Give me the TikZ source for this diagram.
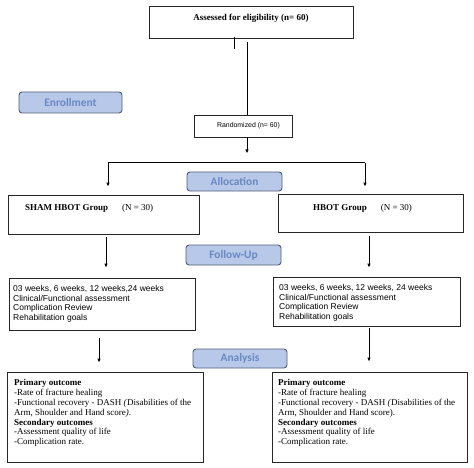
\documentclass[tikz,border=0pt]{standalone}
\usepackage{fontspec}
\setmainfont{Liberation Serif}
\setsansfont{Liberation Sans}
\newfontfamily\labfont{Carlito}
\usetikzlibrary{arrows.meta,calc}
\definecolor{labfill}{HTML}{B7C8E8}
\definecolor{labdraw}{HTML}{4F5D78}
\definecolor{labtext}{HTML}{6A88C2}
\begin{document}
\begin{tikzpicture}[x=1pt,y=-1pt,
 box/.style={draw=black!85,line width=0.8pt,inner sep=0},
 lab/.style={draw=labdraw,fill=labfill,line width=0.9pt,rounded corners=3pt,inner sep=0,font=\labfont\bfseries\fontsize{11.4}{13}\selectfont,text=labtext},
 sertxt/.style={font=\fontsize{9}{9.9}\selectfont,align=left,inner sep=0,anchor=north west},
 santxt/.style={font=\sffamily\fontsize{8.5}{9.7}\selectfont,align=left,inner sep=0,anchor=north west},
 arr/.style={line width=0.8pt,-{Latex[length=4pt,width=3.6pt]}},
 ln/.style={line width=0.8pt}]
\useasboundingbox (0,0) rectangle (474,468);
% top
\node[box,minimum width=204pt,minimum height=32pt] (elig) at (251,22) {};
\node[inner sep=0,font=\bfseries\fontsize{9}{10}\selectfont] (eligt) at (251,18) {Assessed for eligibility (n= 60)};
\node[box,minimum width=98pt,minimum height=22pt] (rand) at (243,126) {};
\node[inner sep=0,font=\sffamily\fontsize{6.9}{8}\selectfont] (randt) at (248.5,125.5) {Randomized (n= 60)};
\draw[ln] ($(elig.south)+(-17,-1)$) -- ++(0,12);
\draw[ln] ($(elig.south)+(-4,4)$) -- ($(rand.north)+(4,0)$);
\draw[arr] ($(rand.south)+(4,0)$) -- ++(0,16);
% labels
\node[lab,minimum width=103pt,minimum height=21pt] (enr) at (70.5,102.5) {Enrollment};
\node[lab,minimum width=95pt,minimum height=19pt] (alloc) at (234.5,181.5) {Allocation};
\node[lab,minimum width=95pt,minimum height=20pt] (fup) at (233.5,255) {Follow-Up};
\node[lab,minimum width=94pt,minimum height=19pt] (ana) at (240,358.5) {Analysis};
% groups
\node[box,minimum width=191pt,minimum height=39pt] (sham) at (103.5,214.5) {};
\node[inner sep=0,anchor=base west,font=\fontsize{9}{11}\selectfont] (shamt) at (25,210) {\textbf{SHAM HBOT Group}\hspace{14pt}(N = 30)};
\node[box,minimum width=185pt,minimum height=38pt] (hbot) at (370.5,213) {};
\node[inner sep=0,anchor=base west,font=\fontsize{9}{11}\selectfont] (hbott) at (313,210) {\textbf{HBOT Group}\hspace{14pt}(N = 30)};
\draw[ln] ($(sham.north)+(4.5,-32)$) -- ($(hbot.north)+(-5.5,-31)$);
\draw[arr] ($(sham.north)+(4.5,-32)$) -- ($(sham.north)+(4.5,-8)$);
\draw[arr] ($(hbot.north)+(-5.5,-31)$) -- ($(hbot.north)+(-5.5,-7)$);
% follow-up
\node[box,minimum width=186pt,minimum height=52pt] (fl) at (102,304) {};
\node[santxt] (flt) at (13,285) {03 weeks, 6 weeks, 12 weeks,24 weeks\\Clinical/Functional assessment\\Complication Review\\Rehabilitation goals};
\node[box,minimum width=187pt,minimum height=49pt] (fr) at (366.5,301.5) {};
\node[santxt] (frt) at (279,284) {03 weeks, 6 weeks, 12 weeks, 24 weeks\\Clinical/Functional assessment\\Complication Review\\Rehabilitation goals};
\draw[arr] ($(sham.south)+(2.5,3)$) -- ($(fl.north)+(4,-10)$);
\draw[arr] ($(hbot.south)+(-1.5,4)$) -- ($(fr.north)+(2.5,-9)$);
% analysis
\node[box,minimum width=196pt,minimum height=90pt] (al) at (105,417) {};
\node[sertxt] (alt) at (14,379) {\textbf{Primary outcome}\\-Rate of fracture healing\\-Functional recovery - DASH \textit{(}Disabilities of the\\Arm, Shoulder and Hand score\textit{)}.\\\textbf{Secondary outcomes}\\-Assessment quality of life\\-Complication rate.};
\node[box,minimum width=195pt,minimum height=90pt] (ar) at (369.5,417) {};
\node[sertxt] (art) at (278,379) {\textbf{Primary outcome}\\-Rate of fracture healing\\-Functional recovery - DASH \textit{(}Disabilities of the\\Arm, Shoulder and Hand score).\\\textbf{Secondary outcomes}\\-Assessment quality of life\\-Complication rate.};
\draw[arr] ($(fl.south)+(-3,8)$) -- ($(al.north)+(-6,-9)$);
\draw[arr] ($(fr.south)+(2.5,2)$) -- ($(ar.north)+(-0.5,-10)$);
\end{tikzpicture}
\end{document}
